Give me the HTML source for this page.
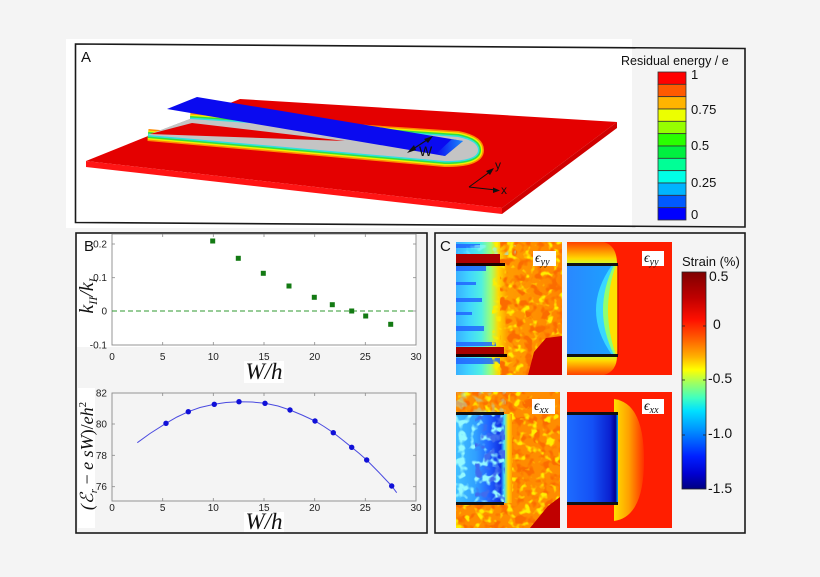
<!DOCTYPE html>
<html><head><meta charset="utf-8"><style>
html,body{margin:0;padding:0;background:#f4f4f4;}
svg{display:block}
</style></head><body>
<svg width="820" height="577" viewBox="0 0 820 577" xmlns="http://www.w3.org/2000/svg" font-family="Liberation Sans, sans-serif">
<defs>
  <linearGradient id="jet" x1="0" y1="0" x2="0" y2="1">
    <stop offset="0" stop-color="#7f0000"/>
    <stop offset="0.12" stop-color="#c00000"/>
    <stop offset="0.22" stop-color="#ff1000"/>
    <stop offset="0.31" stop-color="#ff6000"/>
    <stop offset="0.39" stop-color="#ffb000"/>
    <stop offset="0.45" stop-color="#ffff00"/>
    <stop offset="0.51" stop-color="#a0ff60"/>
    <stop offset="0.58" stop-color="#40ffc0"/>
    <stop offset="0.64" stop-color="#00e0ff"/>
    <stop offset="0.73" stop-color="#0090ff"/>
    <stop offset="0.85" stop-color="#0020ff"/>
    <stop offset="0.93" stop-color="#0000d0"/>
    <stop offset="1" stop-color="#000080"/>
  </linearGradient>
  <linearGradient id="gTL" x1="0" y1="0" x2="1" y2="0">
    <stop offset="0" stop-color="#38b0ff"/>
    <stop offset="0.12" stop-color="#40d4ff"/>
    <stop offset="0.24" stop-color="#50f0e0"/>
    <stop offset="0.33" stop-color="#a0ff70"/>
    <stop offset="0.4" stop-color="#ffd800"/>
    <stop offset="0.48" stop-color="#ff9c00"/>
    <stop offset="1" stop-color="#ff8400"/>
  </linearGradient>
  <linearGradient id="gBL" x1="0" y1="0" x2="1" y2="0">
    <stop offset="0" stop-color="#40c0ff"/>
    <stop offset="0.35" stop-color="#30a0ff"/>
    <stop offset="0.6" stop-color="#2060ff"/>
    <stop offset="0.8" stop-color="#1030e0"/>
    <stop offset="0.86" stop-color="#40e0ff"/>
    <stop offset="0.93" stop-color="#ffe000"/>
    <stop offset="1" stop-color="#ffa000"/>
  </linearGradient>
  <linearGradient id="gTRb" x1="0" y1="0" x2="1" y2="0">
    <stop offset="0" stop-color="#2a88ff"/>
    <stop offset="1" stop-color="#1aa4ff"/>
  </linearGradient>
  <linearGradient id="gTop" x1="0" y1="0" x2="0" y2="1">
    <stop offset="0" stop-color="#ff4000"/>
    <stop offset="0.4" stop-color="#ff9000"/>
    <stop offset="0.75" stop-color="#ffd800"/>
    <stop offset="1" stop-color="#c8ff30"/>
  </linearGradient>
  <linearGradient id="gBot" x1="0" y1="1" x2="0" y2="0">
    <stop offset="0" stop-color="#ff4000"/>
    <stop offset="0.4" stop-color="#ff9000"/>
    <stop offset="0.75" stop-color="#ffd800"/>
    <stop offset="1" stop-color="#c8ff30"/>
  </linearGradient>
  <linearGradient id="gBRb" x1="0" y1="0" x2="1" y2="0">
    <stop offset="0" stop-color="#1e6cff"/>
    <stop offset="0.5" stop-color="#1450f5"/>
    <stop offset="0.85" stop-color="#0a20d0"/>
    <stop offset="0.95" stop-color="#000090"/>
    <stop offset="1" stop-color="#00b0ff"/>
  </linearGradient>
  <linearGradient id="gHalo" x1="0" y1="0" x2="1" y2="0">
    <stop offset="0" stop-color="#ffe000"/>
    <stop offset="0.5" stop-color="#ffa000"/>
    <stop offset="1" stop-color="#ff3000"/>
  </linearGradient>
  <linearGradient id="gTip" x1="0" y1="0" x2="1" y2="0">
    <stop offset="0" stop-color="#0a0af0"/>
    <stop offset="1" stop-color="#20c0ff"/>
  </linearGradient>
  <filter id="spY" x="0%" y="0%" width="100%" height="100%">
    <feTurbulence type="fractalNoise" baseFrequency="0.13" numOctaves="2" seed="7" result="t"/>
    <feColorMatrix in="t" type="matrix" values="0 0 0 0 1  0 0 0 0 0.85  0 0 0 0 0  6 0 0 0 -3.3"/>
    <feComposite in2="SourceAlpha" operator="in"/>
  </filter>
  <filter id="spR" x="0%" y="0%" width="100%" height="100%">
    <feTurbulence type="fractalNoise" baseFrequency="0.12" numOctaves="2" seed="11" result="t"/>
    <feColorMatrix in="t" type="matrix" values="0 0 0 0 0.97  0 0 0 0 0.15  0 0 0 0 0  0 6 0 0 -3.0"/>
    <feComposite in2="SourceAlpha" operator="in"/>
  </filter>
  <filter id="spC" x="0%" y="0%" width="100%" height="100%">
    <feTurbulence type="fractalNoise" baseFrequency="0.12" numOctaves="2" seed="5" result="t"/>
    <feColorMatrix in="t" type="matrix" values="0 0 0 0 0.3  0 0 0 0 0.95  0 0 0 0 1  0 0 6 0 -3.1"/>
    <feComposite in2="SourceAlpha" operator="in"/>
  </filter>
  <filter id="spB" x="0%" y="0%" width="100%" height="100%">
    <feTurbulence type="fractalNoise" baseFrequency="0.12" numOctaves="2" seed="9" result="t"/>
    <feColorMatrix in="t" type="matrix" values="0 0 0 0 0.05  0 0 0 0 0.15  0 0 0 0 0.85  6 0 0 0 -3.1"/>
    <feComposite in2="SourceAlpha" operator="in"/>
  </filter>
</defs>

<rect width="820" height="577" fill="#f4f4f4"/>

<!-- ================= Panel A ================= -->
<rect x="66" y="39" width="566" height="189" fill="#ffffff"/>
<!-- plate -->
<polygon points="240,99 617,122 502,208 86,161" fill="#e40000"/>
<polygon points="86,161 502,208 502,214 86,167" fill="#ff1414"/>
<polygon points="502,208 617,122 617,128 502,214" fill="#d00000"/>
<!-- crack region with rainbow rim -->
<g stroke-linejoin="round" stroke-linecap="butt">
  <path d="M148,135 L445,161 Q478,161 478,150 Q478,141 458,137 L190,119" fill="#c0c0c0" stroke="#ff8a00" stroke-width="12"/>
  <path d="M148,135 L445,161 Q478,161 478,150 Q478,141 458,137 L190,119" fill="#c0c0c0" stroke="#f0f000" stroke-width="9"/>
  <path d="M148,135 L445,161 Q478,161 478,150 Q478,141 458,137 L190,119" fill="#c0c0c0" stroke="#30e040" stroke-width="6"/>
  <path d="M148,135 L445,161 Q478,161 478,150 Q478,141 458,137 L190,119" fill="#c0c0c0" stroke="#30e0e0" stroke-width="3"/>
  <path d="M148,135 L445,161 Q478,161 478,150 Q478,141 458,137 L190,119 Z" fill="#c4c4c4"/>
</g>
<polygon points="150,134 192,123 345,141" fill="#e40000"/>
<!-- blue strip -->
<polygon points="197,97 463,141 445,156 167,109" fill="#0a0af0"/>
<polygon points="452,139 463,141 445,156 436,154" fill="url(#gTip)" opacity="0.7"/>
<!-- W arrow -->
<g stroke="#111" stroke-width="1.2" fill="#111">
  <line x1="410" y1="151" x2="430" y2="138"/>
  <polygon points="407,153 414,145 416,150" stroke="none"/>
  <polygon points="433,136 424,139 428,143" stroke="none"/>
</g>
<text x="419" y="156" font-size="14" fill="#111">W</text>
<!-- axes icon -->
<g stroke="#111" stroke-width="1" fill="#111">
  <line x1="469" y1="187" x2="496" y2="190"/>
  <polygon points="500,190.5 493,187.5 493,193" stroke="none"/>
  <line x1="469" y1="187" x2="491" y2="171"/>
  <polygon points="494,168 486,171 490,175" stroke="none"/>
</g>
<text x="501" y="194" font-size="12" fill="#111">x</text>
<text x="495" y="169" font-size="12" fill="#111">y</text>
<!-- colorbar A -->
<g stroke="#333" stroke-width="0.8">
  <rect x="658" y="72" width="28" height="12.33" fill="#ff0000"/>
  <rect x="658" y="84.33" width="28" height="12.33" fill="#ff5a00"/>
  <rect x="658" y="96.67" width="28" height="12.33" fill="#ffb400"/>
  <rect x="658" y="109" width="28" height="12.33" fill="#ecff00"/>
  <rect x="658" y="121.33" width="28" height="12.33" fill="#96ff00"/>
  <rect x="658" y="133.67" width="28" height="12.33" fill="#2aff00"/>
  <rect x="658" y="146" width="28" height="12.33" fill="#00f040"/>
  <rect x="658" y="158.33" width="28" height="12.33" fill="#00ff96"/>
  <rect x="658" y="170.67" width="28" height="12.33" fill="#00ffe6"/>
  <rect x="658" y="183" width="28" height="12.33" fill="#00b4ff"/>
  <rect x="658" y="195.33" width="28" height="12.33" fill="#005aff"/>
  <rect x="658" y="207.67" width="28" height="12.33" fill="#0000ff"/>
</g>
<text x="621" y="65" font-size="12.5" fill="#111">Residual energy / e</text>
<g font-size="13" fill="#111">
  <text x="691" y="79">1</text>
  <text x="691" y="114">0.75</text>
  <text x="691" y="150">0.5</text>
  <text x="691" y="187">0.25</text>
  <text x="691" y="219">0</text>
</g>
<polygon points="75.5,44 745,48.5 745,227 75.5,222.5" fill="none" stroke="#1a1a1a" stroke-width="1.6"/>
<text x="81" y="62" font-size="15" fill="#111">A</text>

<!-- ================= Panel B ================= -->
<rect x="77" y="234" width="339" height="113" fill="#ffffff"/>
<rect x="76" y="233" width="351" height="300" fill="none" stroke="#1a1a1a" stroke-width="1.6"/>
<text x="84" y="251" font-size="15" fill="#111">B</text>

<!-- top subplot -->
<rect x="112" y="234" width="304" height="111" fill="none" stroke="#8a8a8a" stroke-width="0.9"/>
<g stroke="#8a8a8a" stroke-width="0.8">
  <line x1="162.7" y1="345" x2="162.7" y2="342"/><line x1="213.3" y1="345" x2="213.3" y2="342"/>
  <line x1="264" y1="345" x2="264" y2="342"/><line x1="314.7" y1="345" x2="314.7" y2="342"/>
  <line x1="365.3" y1="345" x2="365.3" y2="342"/>
  <line x1="162.7" y1="234" x2="162.7" y2="237"/><line x1="213.3" y1="234" x2="213.3" y2="237"/>
  <line x1="264" y1="234" x2="264" y2="237"/><line x1="314.7" y1="234" x2="314.7" y2="237"/>
  <line x1="365.3" y1="234" x2="365.3" y2="237"/>
  <line x1="112" y1="244" x2="115" y2="244"/><line x1="112" y1="277.7" x2="115" y2="277.7"/>
  <line x1="112" y1="311" x2="115" y2="311"/>
  <line x1="416" y1="244" x2="413" y2="244"/><line x1="416" y1="277.7" x2="413" y2="277.7"/>
  <line x1="416" y1="311" x2="413" y2="311"/>
</g>
<rect x="78" y="260" width="17" height="72" fill="#ffffff"/>
<text transform="translate(93,296) rotate(-90)" font-family="Liberation Serif, DejaVu Serif, serif" font-style="italic" font-size="20" text-anchor="middle" fill="#111">k<tspan font-size="12" dy="4">II</tspan><tspan dy="-4">/k</tspan><tspan font-size="12" dy="4">I</tspan></text>
<g font-size="10" fill="#222" text-anchor="end">
  <text x="107" y="247.5">0.2</text>
  <text x="107" y="281">0.1</text>
  <text x="107" y="314.5">0</text>
  <text x="107" y="348.5">-0.1</text>
</g>
<g font-size="10" fill="#222" text-anchor="middle">
  <text x="112" y="360">0</text><text x="162.7" y="360">5</text><text x="213.3" y="360">10</text>
  <text x="264" y="360">15</text><text x="314.7" y="360">20</text><text x="365.3" y="360">25</text>
  <text x="416" y="360">30</text>
</g>
<line x1="112" y1="311" x2="416" y2="311" stroke="#2f9a2f" stroke-width="1" stroke-dasharray="5,3"/>
<g fill="#137a13">
  <rect x="210.2" y="238.5" width="5" height="5"/>
  <rect x="235.8" y="255.8" width="5" height="5"/>
  <rect x="260.8" y="270.8" width="5" height="5"/>
  <rect x="286.5" y="283.5" width="5" height="5"/>
  <rect x="311.8" y="294.8" width="5" height="5"/>
  <rect x="329.8" y="302.2" width="5" height="5"/>
  <rect x="349.2" y="308.5" width="5" height="5"/>
  <rect x="363.2" y="313.5" width="5" height="5"/>
  <rect x="388.2" y="321.8" width="5" height="5"/>
</g>
<rect x="244" y="361" width="40" height="22" fill="#ffffff"/>
<text x="264" y="379" font-family="Liberation Serif, DejaVu Serif, serif" font-style="italic" font-size="23" text-anchor="middle" fill="#111">W/h</text>

<!-- bottom subplot -->
<rect x="112" y="393" width="304" height="108" fill="none" stroke="#8a8a8a" stroke-width="0.9"/>
<g stroke="#8a8a8a" stroke-width="0.8">
  <line x1="162.7" y1="501" x2="162.7" y2="498"/><line x1="213.3" y1="501" x2="213.3" y2="498"/>
  <line x1="264" y1="501" x2="264" y2="498"/><line x1="314.7" y1="501" x2="314.7" y2="498"/>
  <line x1="365.3" y1="501" x2="365.3" y2="498"/>
  <line x1="162.7" y1="393" x2="162.7" y2="396"/><line x1="213.3" y1="393" x2="213.3" y2="396"/>
  <line x1="264" y1="393" x2="264" y2="396"/><line x1="314.7" y1="393" x2="314.7" y2="396"/>
  <line x1="365.3" y1="393" x2="365.3" y2="396"/>
  <line x1="112" y1="424" x2="115" y2="424"/><line x1="112" y1="455.3" x2="115" y2="455.3"/>
  <line x1="112" y1="486.7" x2="115" y2="486.7"/>
  <line x1="416" y1="424" x2="413" y2="424"/><line x1="416" y1="455.3" x2="413" y2="455.3"/>
  <line x1="416" y1="486.7" x2="413" y2="486.7"/>
</g>
<rect x="78" y="388" width="17" height="140" fill="#ffffff"/>
<text transform="translate(93,456) rotate(-90)" font-family="Liberation Serif, DejaVu Serif, serif" font-style="italic" font-size="18" text-anchor="middle" fill="#111">(ℰ<tspan font-size="11" dy="4">r</tspan><tspan dy="-4" font-style="normal"> − </tspan>e sW<tspan font-style="normal">)/</tspan>eh<tspan font-size="11" dy="-7" font-style="normal">2</tspan></text>
<g font-size="10" fill="#222" text-anchor="end">
  <text x="107" y="396.5">82</text>
  <text x="107" y="427.5">80</text>
  <text x="107" y="458.8">78</text>
  <text x="107" y="490.2">76</text>
</g>
<g font-size="10" fill="#222" text-anchor="middle">
  <text x="112" y="511">0</text><text x="162.7" y="511">5</text><text x="213.3" y="511">10</text>
  <text x="264" y="511">15</text><text x="314.7" y="511">20</text><text x="365.3" y="511">25</text>
  <text x="416" y="511">30</text>
</g>
<polyline points="137.3,442.7 150,433.5 166,423.3 177,417 188.3,411.7 200,407.5 214.3,404.3 226,402.5 239,401.7 252,402 265,403.3 278,406 290,410 302,415 315,421 324,426.5 333.3,432.7 342,439.5 351.7,447.3 359,453.3 366.7,460 379,472.5 391.7,486 396.7,492.7" fill="none" stroke="#4a4ae0" stroke-width="1"/>
<g fill="#1010d8">
  <circle cx="166" cy="423.3" r="2.7"/><circle cx="188.3" cy="411.7" r="2.7"/>
  <circle cx="214.3" cy="404.3" r="2.7"/><circle cx="239" cy="401.7" r="2.7"/>
  <circle cx="265" cy="403.3" r="2.7"/><circle cx="290" cy="410" r="2.7"/>
  <circle cx="315" cy="421" r="2.7"/><circle cx="333.3" cy="432.7" r="2.7"/>
  <circle cx="351.7" cy="447.3" r="2.7"/><circle cx="366.7" cy="460" r="2.7"/>
  <circle cx="391.7" cy="486" r="2.7"/>
</g>
<rect x="244" y="512" width="40" height="20" fill="#ffffff"/>
<text x="264" y="529" font-family="Liberation Serif, DejaVu Serif, serif" font-style="italic" font-size="23" text-anchor="middle" fill="#111">W/h</text>

<!-- ================= Panel C ================= -->
<rect x="435" y="233" width="310" height="300" fill="none" stroke="#1a1a1a" stroke-width="1.6"/>
<text x="440" y="251" font-size="15" fill="#111">C</text>

<!-- TL tile: eps_yy experiment -->
<rect x="456" y="242" width="106" height="133" fill="url(#gTL)"/>
<g fill="#2060ff" opacity="0.8">
  <rect x="456" y="266" width="30" height="5"/>
  <rect x="456" y="282" width="20" height="3"/>
  <rect x="456" y="298" width="26" height="4"/>
  <rect x="456" y="312" width="16" height="3"/>
  <rect x="456" y="326" width="28" height="5"/>
  <rect x="456" y="342" width="40" height="4"/>
  <rect x="456" y="358" width="44" height="6"/>
  <rect x="456" y="244" width="24" height="4"/>
</g>
<rect x="492" y="242" width="70" height="133" fill="#000" filter="url(#spY)"/>
<rect x="500" y="242" width="62" height="133" fill="#000" filter="url(#spR)"/>
<rect x="456" y="245" width="60" height="10" fill="#000" filter="url(#spC)" opacity="0.6"/>
<rect x="456" y="254" width="44" height="9" fill="#b00000"/>
<rect x="456" y="263" width="49" height="3" fill="#1a0000"/>
<rect x="456" y="347" width="48" height="7" fill="#a80000"/>
<rect x="456" y="354" width="51" height="3" fill="#1a0000"/>
<polygon points="546,338 562,336 562,375 528,375 534,352" fill="#c80000"/>
<rect x="533" y="251" width="23" height="15" fill="#ffffff"/>
<text x="535" y="262" font-family="Liberation Serif, DejaVu Serif, serif" font-style="italic" font-size="14" fill="#111">ϵ<tspan font-size="10" dy="3">yy</tspan></text>

<!-- TR tile: eps_yy simulation -->
<rect x="567" y="242" width="105" height="133" fill="#ff1e00"/>
<path d="M567,242 L604,242 Q617,246 617,264 L567,264 Z" fill="url(#gTop)"/>
<path d="M567,375 L604,375 Q617,371 617,356 L567,356 Z" fill="url(#gBot)"/>
<rect x="567" y="265" width="51" height="90" fill="url(#gTRb)"/>
<path d="M618,265 L612,265 Q580,310 612,355 L618,355 Z" fill="#38d8ff"/>
<path d="M618,265 L614,265 Q592,310 614,355 L618,355 Z" fill="#90ff70"/>
<path d="M618,265 L616,265 Q600,310 616,355 L618,355 Z" fill="#ffe000"/>
<line x1="618" y1="265" x2="618" y2="355" stroke="#d01000" stroke-width="1.5"/>
<rect x="567" y="263" width="51" height="3" fill="#111"/>
<rect x="567" y="354" width="51" height="3" fill="#111"/>
<rect x="642" y="251" width="22" height="15" fill="#ffffff"/>
<text x="644" y="262" font-family="Liberation Serif, DejaVu Serif, serif" font-style="italic" font-size="14" fill="#111">ϵ<tspan font-size="10" dy="3">yy</tspan></text>

<!-- BL tile: eps_xx experiment -->
<rect x="456" y="392" width="104" height="136" fill="#ff8c00"/>
<rect x="456" y="392" width="104" height="136" fill="#000" filter="url(#spR)"/>
<rect x="456" y="392" width="104" height="136" fill="#000" filter="url(#spY)"/>
<rect x="456" y="414" width="56" height="89" fill="url(#gBL)"/>
<rect x="456" y="414" width="48" height="89" fill="#000" filter="url(#spC)"/>
<rect x="475" y="414" width="30" height="89" fill="#000" filter="url(#spB)"/>
<rect x="456" y="392" width="50" height="20" fill="#000" filter="url(#spC)" opacity="0.4"/>
<polygon points="530,528 560,528 560,497 548,506" fill="#c00000"/>
<rect x="456" y="412" width="48" height="3" fill="#111"/>
<rect x="456" y="502" width="48" height="3" fill="#111"/>
<rect x="532" y="399" width="23" height="15" fill="#ffffff"/>
<text x="534" y="410" font-family="Liberation Serif, DejaVu Serif, serif" font-style="italic" font-size="14" fill="#111">ϵ<tspan font-size="10" dy="3">xx</tspan></text>

<!-- BR tile: eps_xx simulation -->
<rect x="567" y="392" width="105" height="136" fill="#ff1e00"/>
<path d="M614,399 Q644,403 644,460 Q644,517 614,521 Z" fill="url(#gHalo)"/>
<rect x="567" y="414" width="51" height="89" fill="url(#gBRb)"/>
<rect x="567" y="412" width="51" height="3" fill="#111"/>
<rect x="567" y="502" width="51" height="3" fill="#111"/>
<rect x="642" y="399" width="22" height="15" fill="#ffffff"/>
<text x="644" y="410" font-family="Liberation Serif, DejaVu Serif, serif" font-style="italic" font-size="14" fill="#111">ϵ<tspan font-size="10" dy="3">xx</tspan></text>

<!-- colorbar C -->
<rect x="682" y="272" width="24" height="217" fill="url(#jet)" stroke="#222" stroke-width="0.8"/>
<g stroke="#222" stroke-width="0.8">
  <line x1="682" y1="326" x2="685" y2="326"/><line x1="706" y1="326" x2="703" y2="326"/>
  <line x1="682" y1="380" x2="685" y2="380"/><line x1="706" y1="380" x2="703" y2="380"/>
  <line x1="682" y1="435" x2="685" y2="435"/><line x1="706" y1="435" x2="703" y2="435"/>
</g>
<text x="682" y="266" font-size="13" fill="#111">Strain (%)</text>
<g font-size="14" fill="#111">
  <text x="709" y="281">0.5</text>
  <text x="713" y="329">0</text>
  <text x="708" y="383">-0.5</text>
  <text x="708" y="438">-1.0</text>
  <text x="708" y="493">-1.5</text>
</g>
</svg>
</body></html>
